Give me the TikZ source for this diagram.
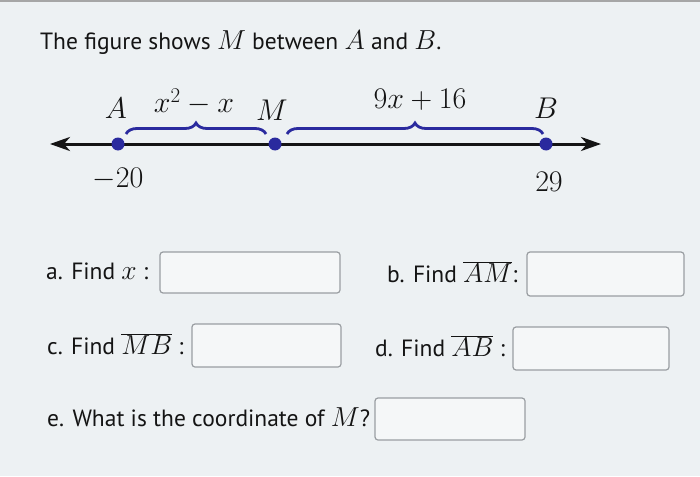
\RequirePackage{fix-cm}
\documentclass[tikz,border=0pt]{standalone}
\usepackage[no-math]{fontspec}
\setmainfont{PT Sans}
\usetikzlibrary{arrows.meta,decorations.pathreplacing}
\definecolor{bgc}{HTML}{EDF1F3}
\definecolor{bluec}{HTML}{2A2A9E}
\definecolor{boxc}{HTML}{9A9EA2}
\definecolor{boxfill}{HTML}{F5F7F8}
\definecolor{inkc}{HTML}{141414}
\newcommand\mth[1]{{\fontsize{27.5}{32}\selectfont$#1$}}
\begin{document}
\begin{tikzpicture}[x=1pt,y=-1pt,
  txt/.style={inner sep=0pt,text=inkc,font=\fontsize{23.5}{28}\selectfont},
  lbl/.style={inner sep=0pt,text=inkc,font=\fontsize{30}{34}\selectfont},
  ansbox/.style={draw=boxc,fill=boxfill,line width=1.2pt,rounded corners=3pt},
  dot/.style={circle,fill=bluec,inner sep=0pt,minimum size=13pt},
  numline/.style={line width=3pt,draw=inkc,>={Stealth[length=20pt,width=14pt,inset=6pt]},<->},
  bracec/.style={draw=bluec,line width=2.8pt,decorate,decoration={brace,amplitude=11pt}}]
\useasboundingbox[fill=bgc] (0,0) rectangle (700,476);
\fill[gray!70] (0,0) rectangle (700,2);
% title
\node[txt,anchor=west] (title) at (40,43) {The figure shows \mth{M} between \mth{A} and \mth{B}.};
% number line
\coordinate (L) at (50,144);
\coordinate (R) at (601,144);
\draw[numline] (L) -- (R);
\node[dot] (A) at (118,144) {};
\node[dot] (M) at (275,144) {};
\node[dot] (B) at (546,144) {};
\draw[bracec] (126,134) -- (266,134);
\draw[bracec] (287,134) -- (543,134);
\node[lbl] (lA) at (116,108) {$A$};
\node[lbl] (lM) at (272,110) {$M$};
\node[lbl] (lB) at (546,108) {$B$};
\node[lbl] (e1) at (194,102) {$x^2-x$};
\node[lbl] (e2) at (420,100) {$9x+16$};
\node[lbl] (n1) at (118,179) {$-20$};
\node[lbl] (n2) at (549,182) {$29$};
% questions
\node[txt,anchor=west] (qa) at (46,271) {a. Find \mth{x} :};
\draw[ansbox] (160,252) rectangle (340,293);
\node[txt,anchor=west] (qb) at (387,272) {b. Find \mth{\overline{AM}}:};
\draw[ansbox] (527,252) rectangle (684,296);
\node[txt,anchor=west] (qc) at (47,344) {c. Find \mth{\overline{MB}} :};
\draw[ansbox] (192,324) rectangle (341,367);
\node[txt,anchor=west] (qd) at (375,346) {d. Find \mth{\overline{AB}} :};
\draw[ansbox] (513,327) rectangle (669,370);
\node[txt,anchor=west] (qe) at (47,417) {e. What is the coordinate of \mth{M}?};
\draw[ansbox] (375,398) rectangle (525,440);
\end{tikzpicture}
\end{document}
